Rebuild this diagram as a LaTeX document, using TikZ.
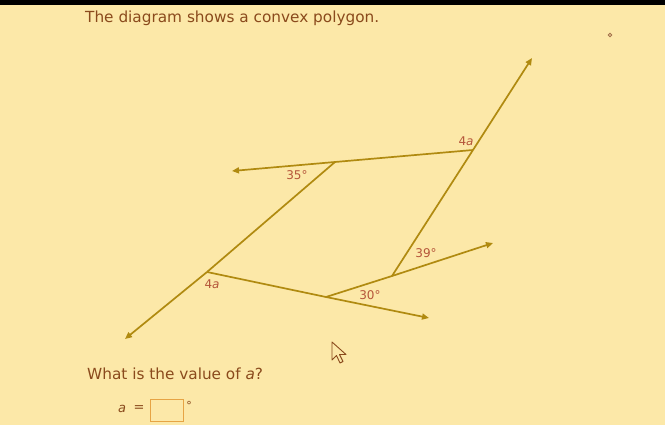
\documentclass[tikz,border=0pt]{standalone}
\usepackage{fontspec}
\setmainfont{DejaVu Sans}
\usetikzlibrary{arrows.meta}
\definecolor{bg}{HTML}{FCE8A8}
\definecolor{ln}{HTML}{B08A10}
\definecolor{lbl}{HTML}{B5553A}
\definecolor{ttl}{HTML}{8A4A1C}
\definecolor{bx}{HTML}{E6A445}
\tikzset{
  ray/.style={draw=ln, line width=1.7pt, -{Triangle[length=7pt,width=6pt]}},
  seg/.style={draw=ln, line width=1.7pt},
  anglbl/.style={text=lbl, font=\fontsize{12}{14}\selectfont, inner sep=0pt},
  qtext/.style={text=ttl, font=\fontsize{15.3}{17}\selectfont, inner sep=0pt, anchor=west},
}
\begin{document}
\begin{tikzpicture}[x=1pt,y=-1pt]
\useasboundingbox (0,0) rectangle (665,425);
\fill[bg] (0,0) rectangle (665,425);
\fill[black] (0,0) rectangle (665,5.5);
% points
\coordinate (A) at (473,150);
\coordinate (B) at (335,162);
\coordinate (C) at (207,272);
\coordinate (D) at (326,297);
\coordinate (E) at (392,276);
\coordinate (P1) at (532,58);
\coordinate (P2) at (232,171);
\coordinate (P3) at (125,339);
\coordinate (P4) at (429,318);
\coordinate (P5) at (493,243);
% lines
\draw[seg] (B) -- (A);
\draw[ray] (B) -- (P2);
\draw[seg] (B) -- (C);
\draw[ray] (C) -- (P3);
\draw[seg] (C) -- (D);
\draw[ray] (D) -- (P4);
\draw[seg] (D) -- (E);
\draw[ray] (E) -- (P5);
\draw[seg] (E) -- (A);
\draw[ray] (A) -- (P1);
% labels
\node[anglbl] (l1) at (466,141) {4\textit{a}};
\node[anglbl] (l2) at (297,175) {35°};
\node[anglbl] (l3) at (426,253) {39°};
\node[anglbl] (l4) at (212,284) {4\textit{a}};
\node[anglbl] (l5) at (370,295) {30°};
% texts
\node[qtext] (title) at (85,18) {The diagram shows a convex polygon.};
\node[qtext] (q) at (87,374) {What is the value of \textit{a}?};
\node[text=ttl, font=\fontsize{13}{15}\selectfont, inner sep=0pt] (av) at (122,409) {\textit{a}};
\node[text=ttl, font=\fontsize{13}{15}\selectfont, inner sep=0pt] (eq) at (139,409) {=};
\node[draw=bx, line width=0.9pt, minimum width=33pt, minimum height=22pt, inner sep=0pt] (box) at (166.5,410.5) {};
\node[text=ttl, font=\fontsize{11}{12}\selectfont, inner sep=0pt] (deg) at (189,405) {°};
% small mark
\draw[draw=ttl!80, line width=0.8pt] (610,35) circle (1.8);
% cursor
\draw[draw=ttl, line width=0.9pt, fill=bg, line join=round]
  (332,342) -- (332,360) -- (336.5,355.5) -- (340,363) -- (343,361.5) -- (339.5,354.5) -- (346,354.5) -- cycle;
\end{tikzpicture}
\end{document}
